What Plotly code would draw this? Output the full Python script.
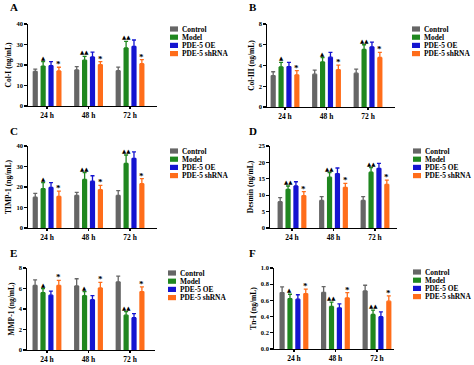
import plotly.graph_objects as go

W, H = 474, 365

categories = ["24 h", "48 h", "72 h"]
groups = ["Control", "Model", "PDE-5 OE", "PDE-5 shRNA"]
colors = ["#666666", "#1f871f", "#1414d0", "#ff6d1a"]

# mean values [group][time] and upward SD
col1_mean = [[16.9, 17.6, 17.2], [19.5, 22.4, 28.3], [19.7, 23.9, 29.1], [17.1, 20.2, 20.6]]
col1_err = [[1.1, 1.6, 1.8], [2.1, 1.8, 3.2], [1.9, 2.4, 3.1], [1.8, 1.4, 2.0]]

col3_mean = [[3.03, 3.16, 3.26], [3.87, 4.35, 5.55], [3.9, 4.8, 5.8], [3.1, 3.6, 4.77]]
col3_err = [[0.37, 0.39, 0.39], [0.43, 0.42, 0.45], [0.4, 0.46, 0.46], [0.4, 0.43, 0.49]]

timp1_mean = [[15.0, 15.9, 15.9], [19.2, 23.7, 31.5], [19.8, 22.8, 34.0], [15.4, 18.7, 21.6]]
timp1_err = [[1.9, 1.5, 2.3], [2.9, 3.3, 4.1], [2.3, 2.7, 3.1], [2.6, 2.1, 2.5]]

desmin_mean = [[8.0, 8.4, 8.4], [11.8, 15.5, 17.0], [12.8, 16.6, 18.2], [9.86, 12.4, 13.3]]
desmin_err = [[1.25, 1.15, 1.15], [1.0, 1.4, 1.4], [1.3, 1.7, 1.5], [1.2, 1.2, 1.3]]

mmp1_mean = [[6.3, 6.25, 6.65], [5.6, 5.3, 3.4], [5.35, 4.9, 3.15], [6.3, 6.05, 5.7]]
mmp1_err = [[0.55, 0.7, 0.55], [0.4, 0.4, 0.35], [0.4, 0.4, 0.4], [0.5, 0.55, 0.45]]

tni_mean = [[0.697, 0.70, 0.717], [0.623, 0.525, 0.426], [0.615, 0.508, 0.398], [0.684, 0.631, 0.59]]
tni_err = [[0.069, 0.07, 0.07], [0.053, 0.053, 0.054], [0.055, 0.049, 0.061], [0.054, 0.066, 0.066]]

letters = ["A", "B", "C", "D", "E", "F"]
y_titles = ["Col-I (ng/mL)", "Col-III (ng/mL)", "TIMP-1 (ng/mL)",
            "Desmin (ng/mL)", "MMP-1 (ng/mL)", "Tn-I (ng/mL)"]
y_max = [40, 8, 40, 25, 8, 1.0]
y_dtick = [10, 2, 10, 5, 2, 0.2]
model_marks = [["▲", "▲▲", "▲▲"], ["▲", "▲", "▲▲"], ["▲", "▲▲", "▲▲"],
               ["▲▲", "▲▲", "▲▲"], ["▲", "▲", "▲▲"], ["▲", "▲▲", "▲▲"]]
shrna_marks = [["*", "*", "*"]] * 6

means = [col1_mean, col3_mean, timp1_mean, desmin_mean, mmp1_mean, tni_mean]
errs = [col1_err, col3_err, timp1_err, desmin_err, mmp1_err, tni_err]

# layout geometry in pixels: (x0, x1, ytop, ybottom, cat_left, cat_right)
geom = [
    (28, 157, 24, 106, -0.46, 2.65),
    (267, 395, 24, 107, -0.434, 2.65),
    (28, 157, 146, 228, -0.46, 2.65),
    (270, 397, 146, 228, -0.53, 2.53),
    (27, 155, 268, 350, -0.48, 2.60),
    (274, 394, 268, 349, -0.48, 2.41),
]
legend_pos = [(170, 29), (412, 29), (170, 151), (413, 151), (168, 273), (413, 272)]
letter_pos = [(8, 7), (247, 7), (8, 131), (247, 131), (8, 253), (247, 253)]

FONT = "Liberation Serif"
BARGAP = 0.24
SLOT = (1 - BARGAP) / 4

fig = go.Figure()
shapes = []
annotations = []
layout = {}

for p in range(6):
    ax = "" if p == 0 else str(p + 1)
    xref, yref = "x" + ax, "y" + ax
    for g in range(4):
        fig.add_trace(go.Bar(
            x=categories, y=means[p][g], name=groups[g],
            marker=dict(color=colors[g], line=dict(width=0)),
            error_y=dict(type="data", symmetric=False, array=errs[p][g],
                         arrayminus=[0, 0, 0], color=colors[g],
                         thickness=1.3, width=2),
            xaxis=xref, yaxis=yref, showlegend=False,
        ))
    x0, x1, yt, yb, cl, cr = geom[p]
    layout["xaxis" + ax] = dict(
        domain=[x0 / W, x1 / W], anchor=yref, type="category",
        range=[cl, cr], showline=True, linecolor="black", linewidth=1.3,
        ticks="outside", ticklen=2, tickwidth=1.2, tickcolor="black",
        tickfont=dict(family=FONT, size=7.5, weight="bold", color="black"),
        showgrid=False, zeroline=False, fixedrange=True, automargin=False,
    )
    layout["yaxis" + ax] = dict(
        domain=[1 - yb / H, 1 - yt / H], anchor=xref,
        range=[0, y_max[p]], dtick=y_dtick[p],
        tickformat=".1f" if p == 5 else "d",
        showline=True, linecolor="black", linewidth=1.3,
        ticks="outside", ticklen=2.5, tickwidth=1.2, tickcolor="black",
        tickfont=dict(family=FONT, size=6.5, weight="bold", color="black"),
        title=dict(text=y_titles[p], standoff=3,
                   font=dict(family=FONT, size=7.5, weight="bold", color="black")),
        showgrid=False, zeroline=False, fixedrange=True, automargin=False,
    )
    # significance marks
    for g, marks in ((1, model_marks[p]), (3, shrna_marks[p])):
        for c in range(3):
            tri = "▲" in marks[c]
            annotations.append(dict(
                x=c + (g - 1.5) * SLOT, y=means[p][g][c] + errs[p][g][c],
                xref=xref, yref=yref, text=marks[c], showarrow=False,
                xanchor="center", yanchor="bottom", yshift=-1 if tri else -4,
                font=dict(family="DejaVu Sans" if tri else FONT,
                          size=5.5 if tri else 9, color="black", weight="bold"),
            ))
    # legend
    lx, ly = legend_pos[p]
    for g in range(4):
        cy = ly + g * 8.2
        shapes.append(dict(type="rect", xref="paper", yref="paper",
                           x0=lx / W, x1=(lx + 8) / W,
                           y0=1 - (cy + 2.6) / H, y1=1 - (cy - 2.6) / H,
                           fillcolor=colors[g], line=dict(width=0)))
        annotations.append(dict(x=(lx + 11) / W, y=1 - cy / H, xref="paper", yref="paper",
                                text=groups[g], showarrow=False, xanchor="left",
                                yanchor="middle", borderpad=0,
                                font=dict(family=FONT, size=7.4, weight="bold", color="black")))
    # panel letter
    px, py = letter_pos[p]
    annotations.append(dict(x=px / W, y=1 - py / H, xref="paper", yref="paper",
                            text=letters[p], showarrow=False, xanchor="left", yanchor="middle",
                            font=dict(family=FONT, size=11, weight="bold", color="black")))

fig.update_layout(
    template="none",
    width=W, height=H, margin=dict(l=0, r=0, t=0, b=0, autoexpand=False),
    paper_bgcolor="white", plot_bgcolor="white",
    barmode="group", bargap=BARGAP, bargroupgap=0.34,
    shapes=shapes, annotations=annotations, showlegend=False,
    **layout,
)

fig.write_html(
    "out.html",
    config={"displayModeBar": False, "staticPlot": True},
    post_script="document.body.style.margin='0';document.body.style.padding='0';",
)
